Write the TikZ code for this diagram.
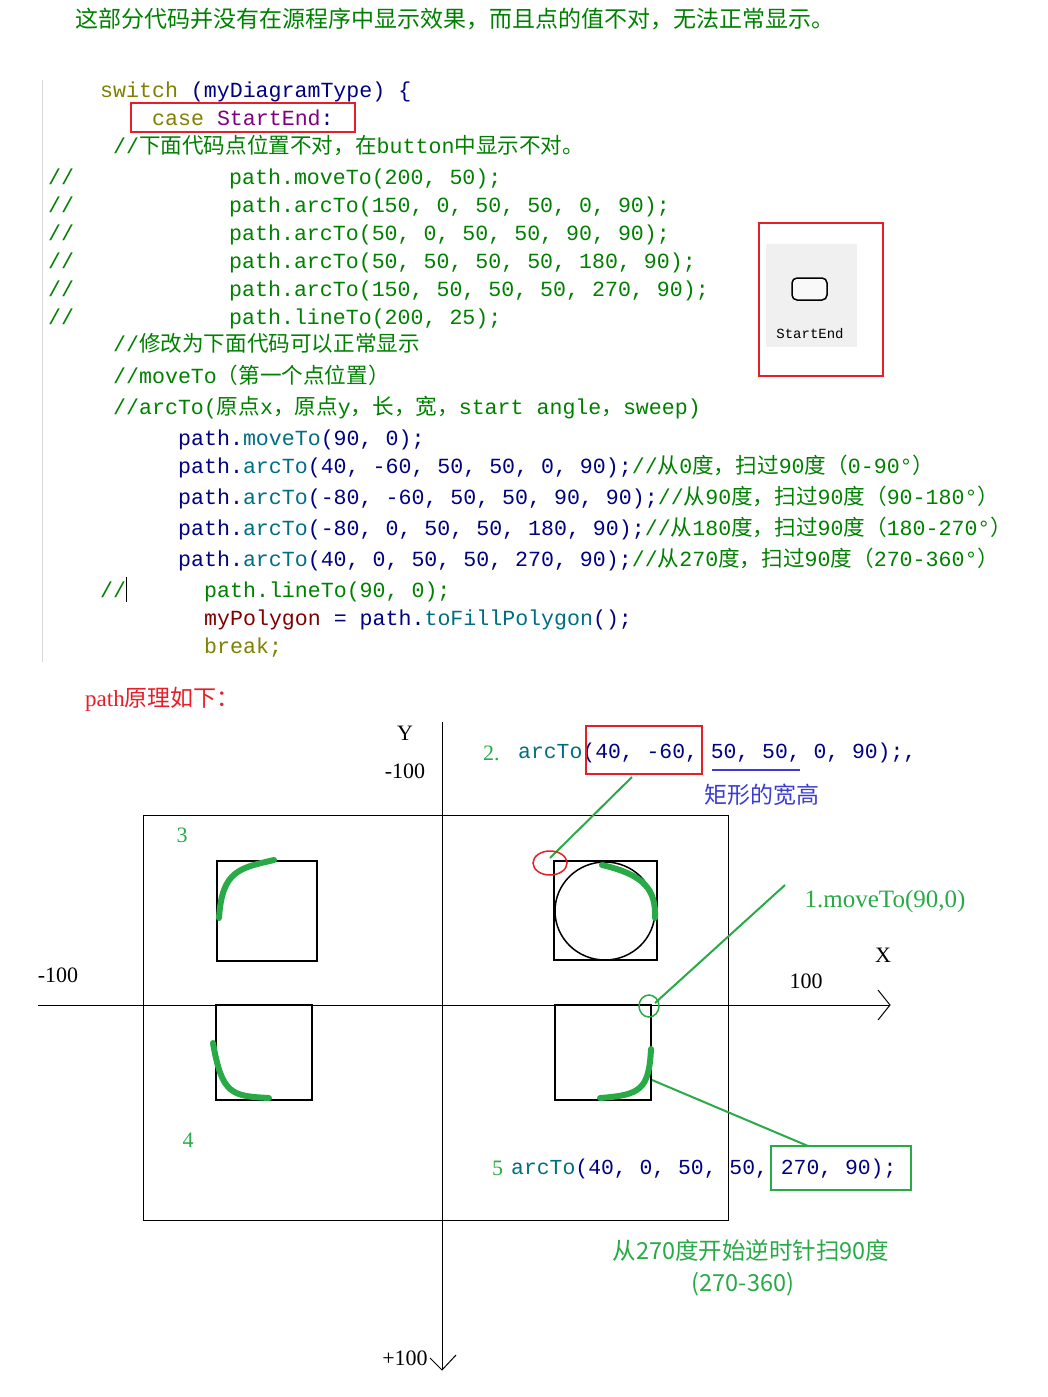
\documentclass[tikz,border=0pt]{standalone}
\usepackage{fontspec}
\setmainfont{Liberation Serif}
\setmonofont{Liberation Mono}
\newfontfamily\cjk{Noto Sans CJK SC}
\definecolor{kw}{RGB}{128,128,0}
\definecolor{pur}{RGB}{128,0,128}
\definecolor{cmt}{RGB}{0,128,0}
\definecolor{nv}{RGB}{0,0,128}
\definecolor{tl}{RGB}{0,110,130}
\definecolor{drd}{RGB}{128,0,0}
\definecolor{gg}{RGB}{40,170,70}
\definecolor{rr}{RGB}{230,30,40}
\definecolor{bl}{RGB}{60,60,210}
\newcommand\mc[1]{\textcolor{tl}{#1}}
\newcommand\cm[1]{\textcolor{cmt}{#1}}
\begin{document}
\begin{tikzpicture}[x=1pt,y=-1pt,
  code/.style={anchor=base west,inner sep=0pt,font=\fontsize{21.6}{21.6}\ttfamily,text=nv},
  dcode/.style={anchor=base west,inner sep=0pt,font=\fontsize{21.4}{21.4}\ttfamily,text=nv},
  lab/.style={inner sep=0pt,font=\fontsize{22}{22}\selectfont},
  sq/.style={draw,line width=2.5pt},
  garc/.style={draw=gg,line width=6pt,line cap=round},
  gl/.style={draw=gg,line width=2pt}]
\useasboundingbox (0,0) rectangle (1047,1397);
\node[anchor=base west,inner sep=0pt,text=cmt,font=\cjk\fontsize{23}{23}\selectfont] (title) at (75,28) {这部分代码并没有在源程序中显示效果，而且点的值不对，无法正常显示。};
\draw[gray!30,line width=1pt] (42,80) -- (42,662);
% code
\node[code] (l1) at (100,97) {\textcolor{kw}{switch} (myDiagramType) \{};
\node[code] (l2) at (152,125) {\textcolor{kw}{case} \textcolor{pur}{StartEnd}:};
\draw[rr,line width=2pt] (131,103) rectangle (355,132);
\node[code,text=cmt] (l3) at (113,153) {//{\cjk 下面代码点位置不对，在}button{\cjk 中显示不对。}};
\foreach \y/\t in {184/{path.moveTo(200, 50);},212/{path.arcTo(150, 0, 50, 50, 0, 90);},240/{path.arcTo(50, 0, 50, 50, 90, 90);},268/{path.arcTo(50, 50, 50, 50, 180, 90);},296/{path.arcTo(150, 50, 50, 50, 270, 90);},324/{path.lineTo(200, 25);}}{
  \node[code,text=cmt] at (48,\y) {//};
  \node[code,text=cmt] at (229,\y) {\t};
}
\node[code,text=cmt] (l4) at (113,351) {//{\cjk 修改为下面代码可以正常显示}};
\node[code,text=cmt] (l5) at (113,383) {//moveTo{\cjk （第一个点位置）}};
\node[code,text=cmt] (l6) at (113,414) {//arcTo({\cjk 原点}x{\cjk ，原点}y{\cjk ，长，宽，}start angle{\cjk ，}sweep)};
\node[code] at (178,445) {path.\mc{moveTo}(90, 0);};
\node[code] at (178,473) {path.\mc{arcTo}(40, -60, 50, 50, 0, 90);\cm{//{\cjk 从}0{\cjk 度，扫过}90{\cjk 度（}0-90°{\cjk ）}}};
\node[code] at (178,504) {path.\mc{arcTo}(-80, -60, 50, 50, 90, 90);\cm{//{\cjk 从}90{\cjk 度，扫过}90{\cjk 度（}90-180°{\cjk ）}}};
\node[code] at (178,535) {path.\mc{arcTo}(-80, 0, 50, 50, 180, 90);\cm{//{\cjk 从}180{\cjk 度，扫过}90{\cjk 度（}180-270°{\cjk ）}}};
\node[code] at (178,566) {path.\mc{arcTo}(40, 0, 50, 50, 270, 90);\cm{//{\cjk 从}270{\cjk 度，扫过}90{\cjk 度（}270-360°{\cjk ）}}};
\node[code,text=cmt] at (100,597) {//};
\draw[line width=1pt] (126,577) -- (126,602);
\node[code,text=cmt] at (204,597) {path.lineTo(90, 0);};
\node[code] at (204,625) {\textcolor{drd}{myPolygon} = path.\mc{toFillPolygon}();};
\node[code,text=kw] at (204,653) {break;};
% button
\draw[rr,line width=2pt] (759,223) rectangle (883,376);
\fill[gray!12] (766,244) rectangle (857,347);
\draw[line width=1.5pt,rounded corners=5pt,fill=gray!5] (792,278) rectangle (827,300);
\node[inner sep=0pt,font=\fontsize{14}{14}\ttfamily] (btn) at (810,334) {StartEnd};
% diagram
\node[anchor=base west,inner sep=0pt,text=rr,font=\fontsize{23}{23}\selectfont] at (85,706) {path{\cjk 原理如下：}};
\coordinate (xl) at (38,1005); \coordinate (xr) at (890,1005);
\coordinate (yt) at (442,722); \coordinate (yb) at (442,1370);
\draw[line width=1pt] (xl) -- (xr);
\draw[line width=1pt] (yt) -- (yb);
\draw[line width=1pt] (878,990) -- (xr) -- (878,1020);
\draw[line width=1pt] (430,1358) -- (yb) -- (456,1355);
\draw[line width=1pt] (143,815) rectangle (728,1220);
\draw[sq] (217,861) rectangle (317,961);
\draw[sq] (554,861) rectangle (657,960);
\draw[line width=1.5pt] (605,911) ellipse (50 and 49);
\draw[sq] (216,1005) rectangle (312,1100);
\draw[sq] (555,1005) rectangle (651,1100);
\draw[garc] (219,918) .. controls (222,870) and (240,868) .. (274,860);
\draw[garc] (602,865) .. controls (645,875) and (656,890) .. (655,918);
\draw[garc] (213,1043) .. controls (222,1095) and (232,1096) .. (269,1098);
\draw[garc] (651,1049) .. controls (649,1090) and (640,1095) .. (600,1098);
\foreach \p/\t in {{405,733}/Y,{405,771}/-100,{58,975}/-100,{883,955}/X,{806,981}/100,{405,1358}/+100}
  \node[lab] at (\p) {\t};
\node[lab,text=gg] at (182,835) {3};
\node[lab,text=gg] at (188,1140) {4};
% label 2
\node[anchor=base west,inner sep=0pt,text=gg,font=\fontsize{22}{22}\selectfont] (n2d) at (483,760) {2.};
\node[dcode] (a2) at (518,758) {\mc{arcTo}(40, -60, 50, 50, 0, 90);,};
\draw[rr,line width=2pt] (586,726) rectangle (702,774);
\draw[bl,line width=2.5pt] (712,770) -- (800,770);
\node[lab,text=bl,font=\cjk\fontsize{23}{23}\selectfont] (wh) at (762,795) {矩形的宽高};
\coordinate (c2a) at (632,777); \coordinate (c2b) at (550,858);
\draw[gl] (c2a) -- (c2b);
\draw[rr,line width=1.5pt] (550,863) ellipse (17 and 12);
% label 1
\node[lab,text=gg,font=\fontsize{25}{25}\selectfont] (m1) at (885,901) {1.moveTo(90,0)};
\coordinate (c1a) at (785,885); \coordinate (c1b) at (655,1003);
\draw[gl] (c1a) -- (c1b);
\draw[gg,line width=1.5pt] (649,1006) ellipse (10 and 11);
% label 5
\node[anchor=base west,inner sep=0pt,text=gg,font=\fontsize{22}{22}\selectfont] (n5d) at (492,1175) {5};
\node[dcode] (a5) at (511,1174) {\mc{arcTo}(40, 0, 50, 50, 270, 90);};
\draw[gg,line width=2.5pt] (771,1146) rectangle (911,1190);
\coordinate (c5a) at (652,1080); \coordinate (c5b) at (808,1146);
\draw[gl] (c5a) -- (c5b);
\node[lab,text=gg,font=\cjk\fontsize{23.5}{23.5}\selectfont] (n1) at (751,1251) {从270度开始逆时针扫90度};
\node[lab,text=gg,font=\cjk\fontsize{23.5}{23.5}\selectfont] (n2) at (743,1284) {(270-360)};
\end{tikzpicture}
\end{document}
